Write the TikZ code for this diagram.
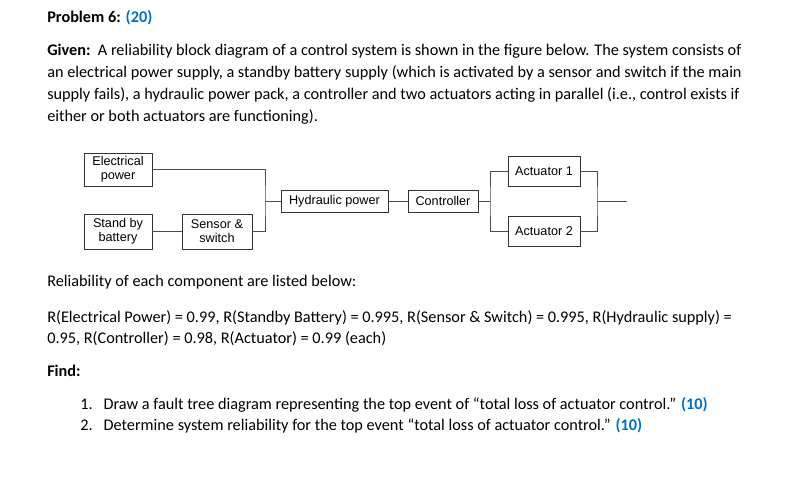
\documentclass[tikz,border=0pt]{standalone}
\usepackage{fontspec}
\setmainfont{Carlito}
\newfontfamily\arialf{Liberation Sans}
\definecolor{blu}{RGB}{0,112,192}
\begin{document}
\begin{tikzpicture}[x=0.75pt,y=-0.75pt,
  txt/.style={anchor=west,inner sep=0,font=\fontsize{12.2}{14}\selectfont},
  blk/.style={draw=black!80,line width=0.6pt,inner sep=0,align=center,font=\arialf\fontsize{9.5}{10.5}\selectfont},
  wire/.style={draw=black!70,line width=0.6pt}]
\useasboundingbox (0,0) rectangle (797,493);
\node[txt] (t1) at (47,18) {\textbf{Problem 6: \textcolor{blu}{(20)}}};
\node[txt] (t2) at (47,51) {\textbf{Given:}\ \ A reliability block diagram of a control system is shown in the figure below. The system consists of};
\node[txt] (t3) at (47,73) {an electrical power supply, a standby battery supply (which is activated by a sensor and switch if the main};
\node[txt] (t4) at (47,95) {supply fails), a hydraulic power pack, a controller and two actuators acting in parallel (i.e., control exists if};
\node[txt] (t5) at (47,117) {either or both actuators are functioning).};
\node[txt] (t6) at (47,282) {Reliability of each component are listed below:};
\node[txt] (t7) at (47,318) {R(Electrical Power) = 0.99, R(Standby Battery) = 0.995, R(Sensor \& Switch) = 0.995, R(Hydraulic supply) =};
\node[txt] (t8) at (47,339) {0.95, R(Controller) = 0.98, R(Actuator) = 0.99 (each)};
\node[txt] (t9) at (47,371) {\textbf{Find:}};
\node[txt] (t10) at (80,405) {1.\ \ \ Draw a fault tree diagram representing the top event of “total loss of actuator control.” \textcolor{blu}{\textbf{(10)}}};
\node[txt] (t11) at (80,426) {2.\ \ \ Determine system reliability for the top event “total loss of actuator control.” \textcolor{blu}{\textbf{(10)}}};

\node[blk,minimum width=68*0.75pt,minimum height=33*0.75pt] (el) at (118,169.5) {Electrical\\power};
\node[blk,minimum width=68*0.75pt,minimum height=35*0.75pt] (sb) at (118,231.5) {Stand by\\battery};
\node[blk,minimum width=70*0.75pt,minimum height=35*0.75pt] (ss) at (217,231.5) {Sensor \&\\switch};
\node[blk,minimum width=107*0.75pt,minimum height=22*0.75pt] (hy) at (334.5,201) {Hydraulic power};
\node[blk,minimum width=70*0.75pt,minimum height=22*0.75pt] (co) at (443,201) {Controller};
\node[blk,minimum width=72*0.75pt,minimum height=30*0.75pt] (a1) at (544,171) {Actuator 1};
\node[blk,minimum width=72*0.75pt,minimum height=30*0.75pt] (a2) at (544,231) {Actuator 2};
\coordinate (j1) at (265,201);
\coordinate (j2) at (490,201);
\coordinate (j3) at (597,201);
\coordinate (out) at (627,201);
\draw[wire] (el.east) -| (j1) |- (ss.east);
\draw[wire] (sb) -- (ss);
\draw[wire] (j1) -- (hy.west);
\draw[wire] (hy) -- (co);
\draw[wire] (co.east) -- (j2);
\draw[wire] (a1.west) -| (j2) |- (a2.west);
\draw[wire] (a1.east) -| (j3) |- (a2.east);
\draw[wire] (j3) -- (out);
\end{tikzpicture}
\end{document}
